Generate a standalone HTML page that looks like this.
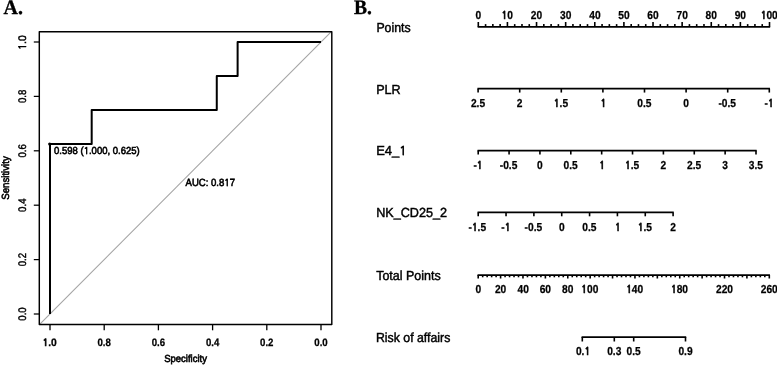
<!DOCTYPE html>
<html><head><meta charset="utf-8"><style>
html,body{margin:0;padding:0;background:#fff;}
body{width:777px;height:366px;overflow:hidden;}
svg{display:block;}
</style></head><body>
<svg width="777" height="366" viewBox="0 0 777 366" style="text-rendering:geometricPrecision">
<rect width="777" height="366" fill="#fff"/>
<clipPath id="cb"><rect x="39.3" y="31.8" width="292.5" height="292.6"/></clipPath>
<line clip-path="url(#cb)" x1="348.1" y1="14.8" x2="22.9" y2="341.2" stroke="#a4a4a4" stroke-width="1.05"/>
<polyline points="50,314 50,144 91.69,144 91.69,110 216.77,110 216.77,76 237.62,76 237.62,42 321,42" fill="none" stroke="#000" stroke-width="2" stroke-linejoin="round"/>
<circle cx="49.7" cy="144" r="1.6" fill="#000"/>
<rect x="39.3" y="31.8" width="292.5" height="292.6" fill="none" stroke="#000" stroke-width="1.45" stroke-linejoin="round"/>
<line x1="50" y1="324.4" x2="50" y2="330.3" stroke="#000" stroke-width="1.3"/>
<line x1="104.2" y1="324.4" x2="104.2" y2="330.3" stroke="#000" stroke-width="1.3"/>
<line x1="158.4" y1="324.4" x2="158.4" y2="330.3" stroke="#000" stroke-width="1.3"/>
<line x1="212.6" y1="324.4" x2="212.6" y2="330.3" stroke="#000" stroke-width="1.3"/>
<line x1="266.8" y1="324.4" x2="266.8" y2="330.3" stroke="#000" stroke-width="1.3"/>
<line x1="321" y1="324.4" x2="321" y2="330.3" stroke="#000" stroke-width="1.3"/>
<line x1="33.8" y1="314" x2="39.3" y2="314" stroke="#000" stroke-width="1.25"/>
<line x1="33.8" y1="259.6" x2="39.3" y2="259.6" stroke="#000" stroke-width="1.25"/>
<line x1="33.8" y1="205.2" x2="39.3" y2="205.2" stroke="#000" stroke-width="1.25"/>
<line x1="33.8" y1="150.8" x2="39.3" y2="150.8" stroke="#000" stroke-width="1.25"/>
<line x1="33.8" y1="96.4" x2="39.3" y2="96.4" stroke="#000" stroke-width="1.25"/>
<line x1="33.8" y1="42" x2="39.3" y2="42" stroke="#000" stroke-width="1.25"/>
<line x1="477.65" y1="26.8" x2="770.15" y2="26.8" stroke="#000" stroke-width="1.75"/>
<line x1="478.3" y1="26.8" x2="478.3" y2="22" stroke="#000" stroke-width="1.6"/>
<line x1="485.58" y1="26.8" x2="485.58" y2="24.1" stroke="#000" stroke-width="1.6"/>
<line x1="492.86" y1="26.8" x2="492.86" y2="24.1" stroke="#000" stroke-width="1.6"/>
<line x1="500.14" y1="26.8" x2="500.14" y2="24.1" stroke="#000" stroke-width="1.6"/>
<line x1="507.42" y1="26.8" x2="507.42" y2="22" stroke="#000" stroke-width="1.6"/>
<line x1="514.7" y1="26.8" x2="514.7" y2="24.1" stroke="#000" stroke-width="1.6"/>
<line x1="521.98" y1="26.8" x2="521.98" y2="24.1" stroke="#000" stroke-width="1.6"/>
<line x1="529.26" y1="26.8" x2="529.26" y2="24.1" stroke="#000" stroke-width="1.6"/>
<line x1="536.54" y1="26.8" x2="536.54" y2="22" stroke="#000" stroke-width="1.6"/>
<line x1="543.82" y1="26.8" x2="543.82" y2="24.1" stroke="#000" stroke-width="1.6"/>
<line x1="551.1" y1="26.8" x2="551.1" y2="24.1" stroke="#000" stroke-width="1.6"/>
<line x1="558.38" y1="26.8" x2="558.38" y2="24.1" stroke="#000" stroke-width="1.6"/>
<line x1="565.66" y1="26.8" x2="565.66" y2="22" stroke="#000" stroke-width="1.6"/>
<line x1="572.94" y1="26.8" x2="572.94" y2="24.1" stroke="#000" stroke-width="1.6"/>
<line x1="580.22" y1="26.8" x2="580.22" y2="24.1" stroke="#000" stroke-width="1.6"/>
<line x1="587.5" y1="26.8" x2="587.5" y2="24.1" stroke="#000" stroke-width="1.6"/>
<line x1="594.78" y1="26.8" x2="594.78" y2="22" stroke="#000" stroke-width="1.6"/>
<line x1="602.06" y1="26.8" x2="602.06" y2="24.1" stroke="#000" stroke-width="1.6"/>
<line x1="609.34" y1="26.8" x2="609.34" y2="24.1" stroke="#000" stroke-width="1.6"/>
<line x1="616.62" y1="26.8" x2="616.62" y2="24.1" stroke="#000" stroke-width="1.6"/>
<line x1="623.9" y1="26.8" x2="623.9" y2="22" stroke="#000" stroke-width="1.6"/>
<line x1="631.18" y1="26.8" x2="631.18" y2="24.1" stroke="#000" stroke-width="1.6"/>
<line x1="638.46" y1="26.8" x2="638.46" y2="24.1" stroke="#000" stroke-width="1.6"/>
<line x1="645.74" y1="26.8" x2="645.74" y2="24.1" stroke="#000" stroke-width="1.6"/>
<line x1="653.02" y1="26.8" x2="653.02" y2="22" stroke="#000" stroke-width="1.6"/>
<line x1="660.3" y1="26.8" x2="660.3" y2="24.1" stroke="#000" stroke-width="1.6"/>
<line x1="667.58" y1="26.8" x2="667.58" y2="24.1" stroke="#000" stroke-width="1.6"/>
<line x1="674.86" y1="26.8" x2="674.86" y2="24.1" stroke="#000" stroke-width="1.6"/>
<line x1="682.14" y1="26.8" x2="682.14" y2="22" stroke="#000" stroke-width="1.6"/>
<line x1="689.42" y1="26.8" x2="689.42" y2="24.1" stroke="#000" stroke-width="1.6"/>
<line x1="696.7" y1="26.8" x2="696.7" y2="24.1" stroke="#000" stroke-width="1.6"/>
<line x1="703.98" y1="26.8" x2="703.98" y2="24.1" stroke="#000" stroke-width="1.6"/>
<line x1="711.26" y1="26.8" x2="711.26" y2="22" stroke="#000" stroke-width="1.6"/>
<line x1="718.54" y1="26.8" x2="718.54" y2="24.1" stroke="#000" stroke-width="1.6"/>
<line x1="725.82" y1="26.8" x2="725.82" y2="24.1" stroke="#000" stroke-width="1.6"/>
<line x1="733.1" y1="26.8" x2="733.1" y2="24.1" stroke="#000" stroke-width="1.6"/>
<line x1="740.38" y1="26.8" x2="740.38" y2="22" stroke="#000" stroke-width="1.6"/>
<line x1="747.66" y1="26.8" x2="747.66" y2="24.1" stroke="#000" stroke-width="1.6"/>
<line x1="754.94" y1="26.8" x2="754.94" y2="24.1" stroke="#000" stroke-width="1.6"/>
<line x1="762.22" y1="26.8" x2="762.22" y2="24.1" stroke="#000" stroke-width="1.6"/>
<line x1="769.5" y1="26.8" x2="769.5" y2="22" stroke="#000" stroke-width="1.6"/>
<line x1="477.45" y1="88.65" x2="769.95" y2="88.65" stroke="#000" stroke-width="1.75"/>
<line x1="478.1" y1="88.65" x2="478.1" y2="92.55" stroke="#000" stroke-width="1.6"/>
<line x1="519.7" y1="88.65" x2="519.7" y2="92.55" stroke="#000" stroke-width="1.6"/>
<line x1="561.3" y1="88.65" x2="561.3" y2="92.55" stroke="#000" stroke-width="1.6"/>
<line x1="602.9" y1="88.65" x2="602.9" y2="92.55" stroke="#000" stroke-width="1.6"/>
<line x1="644.5" y1="88.65" x2="644.5" y2="92.55" stroke="#000" stroke-width="1.6"/>
<line x1="686.1" y1="88.65" x2="686.1" y2="92.55" stroke="#000" stroke-width="1.6"/>
<line x1="727.7" y1="88.65" x2="727.7" y2="92.55" stroke="#000" stroke-width="1.6"/>
<line x1="769.3" y1="88.65" x2="769.3" y2="92.55" stroke="#000" stroke-width="1.6"/>
<line x1="477.55" y1="150.6" x2="756.65" y2="150.6" stroke="#000" stroke-width="1.75"/>
<line x1="478.2" y1="150.6" x2="478.2" y2="154.5" stroke="#000" stroke-width="1.6"/>
<line x1="509.07" y1="150.6" x2="509.07" y2="154.5" stroke="#000" stroke-width="1.6"/>
<line x1="539.93" y1="150.6" x2="539.93" y2="154.5" stroke="#000" stroke-width="1.6"/>
<line x1="570.8" y1="150.6" x2="570.8" y2="154.5" stroke="#000" stroke-width="1.6"/>
<line x1="601.67" y1="150.6" x2="601.67" y2="154.5" stroke="#000" stroke-width="1.6"/>
<line x1="632.53" y1="150.6" x2="632.53" y2="154.5" stroke="#000" stroke-width="1.6"/>
<line x1="663.4" y1="150.6" x2="663.4" y2="154.5" stroke="#000" stroke-width="1.6"/>
<line x1="694.27" y1="150.6" x2="694.27" y2="154.5" stroke="#000" stroke-width="1.6"/>
<line x1="725.13" y1="150.6" x2="725.13" y2="154.5" stroke="#000" stroke-width="1.6"/>
<line x1="756" y1="150.6" x2="756" y2="154.5" stroke="#000" stroke-width="1.6"/>
<line x1="477.55" y1="212.4" x2="673.75" y2="212.4" stroke="#000" stroke-width="1.75"/>
<line x1="478.2" y1="212.4" x2="478.2" y2="216.3" stroke="#000" stroke-width="1.6"/>
<line x1="506.04" y1="212.4" x2="506.04" y2="216.3" stroke="#000" stroke-width="1.6"/>
<line x1="533.89" y1="212.4" x2="533.89" y2="216.3" stroke="#000" stroke-width="1.6"/>
<line x1="561.73" y1="212.4" x2="561.73" y2="216.3" stroke="#000" stroke-width="1.6"/>
<line x1="589.57" y1="212.4" x2="589.57" y2="216.3" stroke="#000" stroke-width="1.6"/>
<line x1="617.41" y1="212.4" x2="617.41" y2="216.3" stroke="#000" stroke-width="1.6"/>
<line x1="645.26" y1="212.4" x2="645.26" y2="216.3" stroke="#000" stroke-width="1.6"/>
<line x1="673.1" y1="212.4" x2="673.1" y2="216.3" stroke="#000" stroke-width="1.6"/>
<line x1="477.55" y1="275" x2="769.95" y2="275" stroke="#000" stroke-width="1.75"/>
<line x1="478.2" y1="275" x2="478.2" y2="278.5" stroke="#000" stroke-width="1.6"/>
<line x1="482.68" y1="275" x2="482.68" y2="277.3" stroke="#000" stroke-width="1.6"/>
<line x1="487.16" y1="275" x2="487.16" y2="277.3" stroke="#000" stroke-width="1.6"/>
<line x1="491.64" y1="275" x2="491.64" y2="277.3" stroke="#000" stroke-width="1.6"/>
<line x1="496.11" y1="275" x2="496.11" y2="277.3" stroke="#000" stroke-width="1.6"/>
<line x1="500.59" y1="275" x2="500.59" y2="278.5" stroke="#000" stroke-width="1.6"/>
<line x1="505.07" y1="275" x2="505.07" y2="277.3" stroke="#000" stroke-width="1.6"/>
<line x1="509.55" y1="275" x2="509.55" y2="277.3" stroke="#000" stroke-width="1.6"/>
<line x1="514.03" y1="275" x2="514.03" y2="277.3" stroke="#000" stroke-width="1.6"/>
<line x1="518.51" y1="275" x2="518.51" y2="277.3" stroke="#000" stroke-width="1.6"/>
<line x1="522.98" y1="275" x2="522.98" y2="278.5" stroke="#000" stroke-width="1.6"/>
<line x1="527.46" y1="275" x2="527.46" y2="277.3" stroke="#000" stroke-width="1.6"/>
<line x1="531.94" y1="275" x2="531.94" y2="277.3" stroke="#000" stroke-width="1.6"/>
<line x1="536.42" y1="275" x2="536.42" y2="277.3" stroke="#000" stroke-width="1.6"/>
<line x1="540.9" y1="275" x2="540.9" y2="277.3" stroke="#000" stroke-width="1.6"/>
<line x1="545.38" y1="275" x2="545.38" y2="278.5" stroke="#000" stroke-width="1.6"/>
<line x1="549.86" y1="275" x2="549.86" y2="277.3" stroke="#000" stroke-width="1.6"/>
<line x1="554.33" y1="275" x2="554.33" y2="277.3" stroke="#000" stroke-width="1.6"/>
<line x1="558.81" y1="275" x2="558.81" y2="277.3" stroke="#000" stroke-width="1.6"/>
<line x1="563.29" y1="275" x2="563.29" y2="277.3" stroke="#000" stroke-width="1.6"/>
<line x1="567.77" y1="275" x2="567.77" y2="278.5" stroke="#000" stroke-width="1.6"/>
<line x1="572.25" y1="275" x2="572.25" y2="277.3" stroke="#000" stroke-width="1.6"/>
<line x1="576.73" y1="275" x2="576.73" y2="277.3" stroke="#000" stroke-width="1.6"/>
<line x1="581.2" y1="275" x2="581.2" y2="277.3" stroke="#000" stroke-width="1.6"/>
<line x1="585.68" y1="275" x2="585.68" y2="277.3" stroke="#000" stroke-width="1.6"/>
<line x1="590.16" y1="275" x2="590.16" y2="278.5" stroke="#000" stroke-width="1.6"/>
<line x1="594.64" y1="275" x2="594.64" y2="277.3" stroke="#000" stroke-width="1.6"/>
<line x1="599.12" y1="275" x2="599.12" y2="277.3" stroke="#000" stroke-width="1.6"/>
<line x1="603.6" y1="275" x2="603.6" y2="277.3" stroke="#000" stroke-width="1.6"/>
<line x1="608.08" y1="275" x2="608.08" y2="277.3" stroke="#000" stroke-width="1.6"/>
<line x1="612.55" y1="275" x2="612.55" y2="278.5" stroke="#000" stroke-width="1.6"/>
<line x1="617.03" y1="275" x2="617.03" y2="277.3" stroke="#000" stroke-width="1.6"/>
<line x1="621.51" y1="275" x2="621.51" y2="277.3" stroke="#000" stroke-width="1.6"/>
<line x1="625.99" y1="275" x2="625.99" y2="277.3" stroke="#000" stroke-width="1.6"/>
<line x1="630.47" y1="275" x2="630.47" y2="277.3" stroke="#000" stroke-width="1.6"/>
<line x1="634.95" y1="275" x2="634.95" y2="278.5" stroke="#000" stroke-width="1.6"/>
<line x1="639.42" y1="275" x2="639.42" y2="277.3" stroke="#000" stroke-width="1.6"/>
<line x1="643.9" y1="275" x2="643.9" y2="277.3" stroke="#000" stroke-width="1.6"/>
<line x1="648.38" y1="275" x2="648.38" y2="277.3" stroke="#000" stroke-width="1.6"/>
<line x1="652.86" y1="275" x2="652.86" y2="277.3" stroke="#000" stroke-width="1.6"/>
<line x1="657.34" y1="275" x2="657.34" y2="278.5" stroke="#000" stroke-width="1.6"/>
<line x1="661.82" y1="275" x2="661.82" y2="277.3" stroke="#000" stroke-width="1.6"/>
<line x1="666.3" y1="275" x2="666.3" y2="277.3" stroke="#000" stroke-width="1.6"/>
<line x1="670.77" y1="275" x2="670.77" y2="277.3" stroke="#000" stroke-width="1.6"/>
<line x1="675.25" y1="275" x2="675.25" y2="277.3" stroke="#000" stroke-width="1.6"/>
<line x1="679.73" y1="275" x2="679.73" y2="278.5" stroke="#000" stroke-width="1.6"/>
<line x1="684.21" y1="275" x2="684.21" y2="277.3" stroke="#000" stroke-width="1.6"/>
<line x1="688.69" y1="275" x2="688.69" y2="277.3" stroke="#000" stroke-width="1.6"/>
<line x1="693.17" y1="275" x2="693.17" y2="277.3" stroke="#000" stroke-width="1.6"/>
<line x1="697.64" y1="275" x2="697.64" y2="277.3" stroke="#000" stroke-width="1.6"/>
<line x1="702.12" y1="275" x2="702.12" y2="278.5" stroke="#000" stroke-width="1.6"/>
<line x1="706.6" y1="275" x2="706.6" y2="277.3" stroke="#000" stroke-width="1.6"/>
<line x1="711.08" y1="275" x2="711.08" y2="277.3" stroke="#000" stroke-width="1.6"/>
<line x1="715.56" y1="275" x2="715.56" y2="277.3" stroke="#000" stroke-width="1.6"/>
<line x1="720.04" y1="275" x2="720.04" y2="277.3" stroke="#000" stroke-width="1.6"/>
<line x1="724.52" y1="275" x2="724.52" y2="278.5" stroke="#000" stroke-width="1.6"/>
<line x1="728.99" y1="275" x2="728.99" y2="277.3" stroke="#000" stroke-width="1.6"/>
<line x1="733.47" y1="275" x2="733.47" y2="277.3" stroke="#000" stroke-width="1.6"/>
<line x1="737.95" y1="275" x2="737.95" y2="277.3" stroke="#000" stroke-width="1.6"/>
<line x1="742.43" y1="275" x2="742.43" y2="277.3" stroke="#000" stroke-width="1.6"/>
<line x1="746.91" y1="275" x2="746.91" y2="278.5" stroke="#000" stroke-width="1.6"/>
<line x1="751.39" y1="275" x2="751.39" y2="277.3" stroke="#000" stroke-width="1.6"/>
<line x1="755.86" y1="275" x2="755.86" y2="277.3" stroke="#000" stroke-width="1.6"/>
<line x1="760.34" y1="275" x2="760.34" y2="277.3" stroke="#000" stroke-width="1.6"/>
<line x1="764.82" y1="275" x2="764.82" y2="277.3" stroke="#000" stroke-width="1.6"/>
<line x1="769.3" y1="275" x2="769.3" y2="278.5" stroke="#000" stroke-width="1.6"/>
<line x1="581.6" y1="337" x2="686.2" y2="337" stroke="#000" stroke-width="1.75"/>
<line x1="582.3" y1="337" x2="582.3" y2="341.5" stroke="#000" stroke-width="1.6"/>
<line x1="614.3" y1="337" x2="614.3" y2="341.5" stroke="#000" stroke-width="1.6"/>
<line x1="633.7" y1="337" x2="633.7" y2="341.5" stroke="#000" stroke-width="1.6"/>
<line x1="685.5" y1="337" x2="685.5" y2="341.5" stroke="#000" stroke-width="1.6"/>
<text x="3.6" y="13.6" font-family="Liberation Serif, Times New Roman, serif" font-size="20.5" font-weight="bold" stroke="#000" stroke-width="0.35" textLength="19.32" lengthAdjust="spacingAndGlyphs">A.</text>
<text x="185.52" y="185.7" font-family="Liberation Sans, Arial, sans-serif" font-size="10.4" stroke="#000" stroke-width="0.6" textLength="49.45" lengthAdjust="spacingAndGlyphs">AUC: 0.8<tspan font-family="NanumGothic, Liberation Sans, sans-serif" stroke="#000" stroke-width="0.7" font-size="92.6%">1</tspan>7</text>
<text x="54" y="154" font-family="Liberation Sans, Arial, sans-serif" font-size="10.2" stroke="#000" stroke-width="0.6" textLength="85.77" lengthAdjust="spacingAndGlyphs">0.598 (<tspan font-family="NanumGothic, Liberation Sans, sans-serif" stroke="#000" stroke-width="0.7" font-size="92.6%">1</tspan>.000, 0.625)</text>
<text x="164.2" y="362.2" font-family="Liberation Sans, Arial, sans-serif" font-size="10.2" stroke="#000" stroke-width="0.6" textLength="42.79" lengthAdjust="spacingAndGlyphs">Specificity</text>
<text transform="translate(8.8,199.83) rotate(-90)" x="0" y="0" font-family="Liberation Sans, Arial, sans-serif" font-size="10.4" stroke="#000" stroke-width="0.6" textLength="43.62" lengthAdjust="spacingAndGlyphs">Sensitivity</text>
<text x="42.4" y="345.6" font-family="Liberation Sans, Arial, sans-serif" font-size="10.8" font-weight="bold" stroke="#000" stroke-width="0.25" textLength="14.41" lengthAdjust="spacingAndGlyphs"><tspan font-family="NanumGothic, Liberation Sans, sans-serif" stroke="#000" stroke-width="0.6" font-size="92.6%">1</tspan>.0</text>
<text x="97.49" y="345.6" font-family="Liberation Sans, Arial, sans-serif" font-size="10.8" font-weight="bold" stroke="#000" stroke-width="0.25" textLength="13.41" lengthAdjust="spacingAndGlyphs">0.8</text>
<text x="151.69" y="345.6" font-family="Liberation Sans, Arial, sans-serif" font-size="10.8" font-weight="bold" stroke="#000" stroke-width="0.25" textLength="13.42" lengthAdjust="spacingAndGlyphs">0.6</text>
<text x="205.89" y="345.6" font-family="Liberation Sans, Arial, sans-serif" font-size="10.8" font-weight="bold" stroke="#000" stroke-width="0.25" textLength="13.37" lengthAdjust="spacingAndGlyphs">0.4</text>
<text x="260.09" y="345.6" font-family="Liberation Sans, Arial, sans-serif" font-size="10.8" font-weight="bold" stroke="#000" stroke-width="0.25" textLength="13.41" lengthAdjust="spacingAndGlyphs">0.2</text>
<text x="314.29" y="345.6" font-family="Liberation Sans, Arial, sans-serif" font-size="10.8" font-weight="bold" stroke="#000" stroke-width="0.25" textLength="13.44" lengthAdjust="spacingAndGlyphs">0.0</text>
<text transform="translate(25.9,320.68) rotate(-90)" x="0" y="0" font-family="Liberation Sans, Arial, sans-serif" font-size="11" stroke="#000" stroke-width="0.45" textLength="13.28" lengthAdjust="spacingAndGlyphs">0.0</text>
<text transform="translate(25.9,266.28) rotate(-90)" x="0" y="0" font-family="Liberation Sans, Arial, sans-serif" font-size="11" stroke="#000" stroke-width="0.45" textLength="13.36" lengthAdjust="spacingAndGlyphs">0.2</text>
<text transform="translate(25.9,211.88) rotate(-90)" x="0" y="0" font-family="Liberation Sans, Arial, sans-serif" font-size="11" stroke="#000" stroke-width="0.45" textLength="13.39" lengthAdjust="spacingAndGlyphs">0.4</text>
<text transform="translate(25.9,157.48) rotate(-90)" x="0" y="0" font-family="Liberation Sans, Arial, sans-serif" font-size="11" stroke="#000" stroke-width="0.45" textLength="13.33" lengthAdjust="spacingAndGlyphs">0.6</text>
<text transform="translate(25.9,103.08) rotate(-90)" x="0" y="0" font-family="Liberation Sans, Arial, sans-serif" font-size="11" stroke="#000" stroke-width="0.45" textLength="13.35" lengthAdjust="spacingAndGlyphs">0.8</text>
<text transform="translate(25.9,49.73) rotate(-90)" x="0" y="0" font-family="Liberation Sans, Arial, sans-serif" font-size="11" stroke="#000" stroke-width="0.45" textLength="14.4" lengthAdjust="spacingAndGlyphs"><tspan font-family="NanumGothic, Liberation Sans, sans-serif" stroke="#000" stroke-width="0.7" font-size="92.6%">1</tspan>.0</text>
<text x="354.1" y="13.6" font-family="Liberation Serif, Times New Roman, serif" font-size="20.5" font-weight="bold" stroke="#000" stroke-width="0.35" textLength="17.89" lengthAdjust="spacingAndGlyphs">B.</text>
<text x="376.4" y="32.3" font-family="Liberation Sans, Arial, sans-serif" font-size="13.2" stroke="#000" stroke-width="0.45" textLength="34.27" lengthAdjust="spacingAndGlyphs">Points</text>
<text x="376.18" y="94.4" font-family="Liberation Sans, Arial, sans-serif" font-size="13.2" stroke="#000" stroke-width="0.45" textLength="24.52" lengthAdjust="spacingAndGlyphs">PLR</text>
<text x="376.16" y="154.6" font-family="Liberation Sans, Arial, sans-serif" font-size="13.2" stroke="#000" stroke-width="0.45" textLength="30.3" lengthAdjust="spacingAndGlyphs">E4_<tspan font-family="NanumGothic, Liberation Sans, sans-serif" stroke="#000" stroke-width="0.7" font-size="92.6%">1</tspan></text>
<text x="376.18" y="216.5" font-family="Liberation Sans, Arial, sans-serif" font-size="13.2" stroke="#000" stroke-width="0.45" textLength="70.92" lengthAdjust="spacingAndGlyphs">NK_CD25_2</text>
<text x="376.2" y="280" font-family="Liberation Sans, Arial, sans-serif" font-size="13.2" stroke="#000" stroke-width="0.45" textLength="64.49" lengthAdjust="spacingAndGlyphs">Total Points</text>
<text x="375.9" y="341.8" font-family="Liberation Sans, Arial, sans-serif" font-size="13.2" stroke="#000" stroke-width="0.45" textLength="74.45" lengthAdjust="spacingAndGlyphs">Risk of affairs</text>
<text x="475.48" y="18.8" font-family="Liberation Sans, Arial, sans-serif" font-size="11.6" font-weight="bold" stroke="#000" stroke-width="0.25" textLength="5.68" lengthAdjust="spacingAndGlyphs">0</text>
<text x="501.45" y="18.8" font-family="Liberation Sans, Arial, sans-serif" font-size="11.6" font-weight="bold" stroke="#000" stroke-width="0.25" textLength="11.41" lengthAdjust="spacingAndGlyphs"><tspan font-family="NanumGothic, Liberation Sans, sans-serif" stroke="#000" stroke-width="0.6" font-size="92.6%">1</tspan>0</text>
<text x="530.87" y="18.8" font-family="Liberation Sans, Arial, sans-serif" font-size="11.6" font-weight="bold" stroke="#000" stroke-width="0.25" textLength="11.36" lengthAdjust="spacingAndGlyphs">20</text>
<text x="559.96" y="18.8" font-family="Liberation Sans, Arial, sans-serif" font-size="11.6" font-weight="bold" stroke="#000" stroke-width="0.25" textLength="11.36" lengthAdjust="spacingAndGlyphs">30</text>
<text x="589.25" y="18.8" font-family="Liberation Sans, Arial, sans-serif" font-size="11.6" font-weight="bold" stroke="#000" stroke-width="0.25" textLength="11.36" lengthAdjust="spacingAndGlyphs">40</text>
<text x="618.21" y="18.8" font-family="Liberation Sans, Arial, sans-serif" font-size="11.6" font-weight="bold" stroke="#000" stroke-width="0.25" textLength="11.36" lengthAdjust="spacingAndGlyphs">50</text>
<text x="647.34" y="18.8" font-family="Liberation Sans, Arial, sans-serif" font-size="11.6" font-weight="bold" stroke="#000" stroke-width="0.25" textLength="11.36" lengthAdjust="spacingAndGlyphs">60</text>
<text x="676.46" y="18.8" font-family="Liberation Sans, Arial, sans-serif" font-size="11.6" font-weight="bold" stroke="#000" stroke-width="0.25" textLength="11.36" lengthAdjust="spacingAndGlyphs">70</text>
<text x="705.58" y="18.8" font-family="Liberation Sans, Arial, sans-serif" font-size="11.6" font-weight="bold" stroke="#000" stroke-width="0.25" textLength="11.36" lengthAdjust="spacingAndGlyphs">80</text>
<text x="734.7" y="18.8" font-family="Liberation Sans, Arial, sans-serif" font-size="11.6" font-weight="bold" stroke="#000" stroke-width="0.25" textLength="11.36" lengthAdjust="spacingAndGlyphs">90</text>
<text x="760.68" y="18.8" font-family="Liberation Sans, Arial, sans-serif" font-size="11.6" font-weight="bold" stroke="#000" stroke-width="0.25" textLength="17.09" lengthAdjust="spacingAndGlyphs"><tspan font-family="NanumGothic, Liberation Sans, sans-serif" stroke="#000" stroke-width="0.6" font-size="92.6%">1</tspan>00</text>
<text x="470.92" y="107.4" font-family="Liberation Sans, Arial, sans-serif" font-size="11.6" font-weight="bold" stroke="#000" stroke-width="0.25" textLength="14.19" lengthAdjust="spacingAndGlyphs">2.5</text>
<text x="516.87" y="107.4" font-family="Liberation Sans, Arial, sans-serif" font-size="11.6" font-weight="bold" stroke="#000" stroke-width="0.25" textLength="5.68" lengthAdjust="spacingAndGlyphs">2</text>
<text x="553.82" y="107.4" font-family="Liberation Sans, Arial, sans-serif" font-size="11.6" font-weight="bold" stroke="#000" stroke-width="0.25" textLength="14.24" lengthAdjust="spacingAndGlyphs"><tspan font-family="NanumGothic, Liberation Sans, sans-serif" stroke="#000" stroke-width="0.6" font-size="92.6%">1</tspan>.5</text>
<text x="600.53" y="107.4" font-family="Liberation Sans, Arial, sans-serif" font-size="11.6" font-weight="bold" stroke="#000" stroke-width="0.25" textLength="5.73" lengthAdjust="spacingAndGlyphs"><tspan font-family="NanumGothic, Liberation Sans, sans-serif" stroke="#000" stroke-width="0.6" font-size="92.6%">1</tspan></text>
<text x="637.3" y="107.4" font-family="Liberation Sans, Arial, sans-serif" font-size="11.6" font-weight="bold" stroke="#000" stroke-width="0.25" textLength="14.19" lengthAdjust="spacingAndGlyphs">0.5</text>
<text x="683.28" y="107.4" font-family="Liberation Sans, Arial, sans-serif" font-size="11.6" font-weight="bold" stroke="#000" stroke-width="0.25" textLength="5.68" lengthAdjust="spacingAndGlyphs">0</text>
<text x="718.41" y="107.4" font-family="Liberation Sans, Arial, sans-serif" font-size="11.6" font-weight="bold" stroke="#000" stroke-width="0.25" textLength="17.59" lengthAdjust="spacingAndGlyphs">-0.5</text>
<text x="764.53" y="107.4" font-family="Liberation Sans, Arial, sans-serif" font-size="11.6" font-weight="bold" stroke="#000" stroke-width="0.25" textLength="9.14" lengthAdjust="spacingAndGlyphs">-<tspan font-family="NanumGothic, Liberation Sans, sans-serif" stroke="#000" stroke-width="0.6" font-size="92.6%">1</tspan></text>
<text x="473.43" y="169.3" font-family="Liberation Sans, Arial, sans-serif" font-size="11.6" font-weight="bold" stroke="#000" stroke-width="0.25" textLength="9.14" lengthAdjust="spacingAndGlyphs">-<tspan font-family="NanumGothic, Liberation Sans, sans-serif" stroke="#000" stroke-width="0.6" font-size="92.6%">1</tspan></text>
<text x="499.77" y="169.3" font-family="Liberation Sans, Arial, sans-serif" font-size="11.6" font-weight="bold" stroke="#000" stroke-width="0.25" textLength="17.59" lengthAdjust="spacingAndGlyphs">-0.5</text>
<text x="537.12" y="169.3" font-family="Liberation Sans, Arial, sans-serif" font-size="11.6" font-weight="bold" stroke="#000" stroke-width="0.25" textLength="5.68" lengthAdjust="spacingAndGlyphs">0</text>
<text x="563.6" y="169.3" font-family="Liberation Sans, Arial, sans-serif" font-size="11.6" font-weight="bold" stroke="#000" stroke-width="0.25" textLength="14.19" lengthAdjust="spacingAndGlyphs">0.5</text>
<text x="599.29" y="169.3" font-family="Liberation Sans, Arial, sans-serif" font-size="11.6" font-weight="bold" stroke="#000" stroke-width="0.25" textLength="5.73" lengthAdjust="spacingAndGlyphs"><tspan font-family="NanumGothic, Liberation Sans, sans-serif" stroke="#000" stroke-width="0.6" font-size="92.6%">1</tspan></text>
<text x="625.05" y="169.3" font-family="Liberation Sans, Arial, sans-serif" font-size="11.6" font-weight="bold" stroke="#000" stroke-width="0.25" textLength="14.24" lengthAdjust="spacingAndGlyphs"><tspan font-family="NanumGothic, Liberation Sans, sans-serif" stroke="#000" stroke-width="0.6" font-size="92.6%">1</tspan>.5</text>
<text x="660.57" y="169.3" font-family="Liberation Sans, Arial, sans-serif" font-size="11.6" font-weight="bold" stroke="#000" stroke-width="0.25" textLength="5.68" lengthAdjust="spacingAndGlyphs">2</text>
<text x="687.09" y="169.3" font-family="Liberation Sans, Arial, sans-serif" font-size="11.6" font-weight="bold" stroke="#000" stroke-width="0.25" textLength="14.19" lengthAdjust="spacingAndGlyphs">2.5</text>
<text x="722.29" y="169.3" font-family="Liberation Sans, Arial, sans-serif" font-size="11.6" font-weight="bold" stroke="#000" stroke-width="0.25" textLength="5.68" lengthAdjust="spacingAndGlyphs">3</text>
<text x="748.79" y="169.3" font-family="Liberation Sans, Arial, sans-serif" font-size="11.6" font-weight="bold" stroke="#000" stroke-width="0.25" textLength="14.19" lengthAdjust="spacingAndGlyphs">3.5</text>
<text x="468.47" y="231.2" font-family="Liberation Sans, Arial, sans-serif" font-size="11.6" font-weight="bold" stroke="#000" stroke-width="0.25" textLength="17.66" lengthAdjust="spacingAndGlyphs">-<tspan font-family="NanumGothic, Liberation Sans, sans-serif" stroke="#000" stroke-width="0.6" font-size="92.6%">1</tspan>.5</text>
<text x="501.27" y="231.2" font-family="Liberation Sans, Arial, sans-serif" font-size="11.6" font-weight="bold" stroke="#000" stroke-width="0.25" textLength="9.14" lengthAdjust="spacingAndGlyphs">-<tspan font-family="NanumGothic, Liberation Sans, sans-serif" stroke="#000" stroke-width="0.6" font-size="92.6%">1</tspan></text>
<text x="524.59" y="231.2" font-family="Liberation Sans, Arial, sans-serif" font-size="11.6" font-weight="bold" stroke="#000" stroke-width="0.25" textLength="17.59" lengthAdjust="spacingAndGlyphs">-0.5</text>
<text x="558.91" y="231.2" font-family="Liberation Sans, Arial, sans-serif" font-size="11.6" font-weight="bold" stroke="#000" stroke-width="0.25" textLength="5.68" lengthAdjust="spacingAndGlyphs">0</text>
<text x="582.37" y="231.2" font-family="Liberation Sans, Arial, sans-serif" font-size="11.6" font-weight="bold" stroke="#000" stroke-width="0.25" textLength="14.19" lengthAdjust="spacingAndGlyphs">0.5</text>
<text x="615.04" y="231.2" font-family="Liberation Sans, Arial, sans-serif" font-size="11.6" font-weight="bold" stroke="#000" stroke-width="0.25" textLength="5.73" lengthAdjust="spacingAndGlyphs"><tspan font-family="NanumGothic, Liberation Sans, sans-serif" stroke="#000" stroke-width="0.6" font-size="92.6%">1</tspan></text>
<text x="637.78" y="231.2" font-family="Liberation Sans, Arial, sans-serif" font-size="11.6" font-weight="bold" stroke="#000" stroke-width="0.25" textLength="14.24" lengthAdjust="spacingAndGlyphs"><tspan font-family="NanumGothic, Liberation Sans, sans-serif" stroke="#000" stroke-width="0.6" font-size="92.6%">1</tspan>.5</text>
<text x="670.27" y="231.2" font-family="Liberation Sans, Arial, sans-serif" font-size="11.6" font-weight="bold" stroke="#000" stroke-width="0.25" textLength="5.68" lengthAdjust="spacingAndGlyphs">2</text>
<text x="475.38" y="292.6" font-family="Liberation Sans, Arial, sans-serif" font-size="11.6" font-weight="bold" stroke="#000" stroke-width="0.25" textLength="5.68" lengthAdjust="spacingAndGlyphs">0</text>
<text x="494.93" y="292.6" font-family="Liberation Sans, Arial, sans-serif" font-size="11.6" font-weight="bold" stroke="#000" stroke-width="0.25" textLength="11.36" lengthAdjust="spacingAndGlyphs">20</text>
<text x="517.46" y="292.6" font-family="Liberation Sans, Arial, sans-serif" font-size="11.6" font-weight="bold" stroke="#000" stroke-width="0.25" textLength="11.36" lengthAdjust="spacingAndGlyphs">40</text>
<text x="539.69" y="292.6" font-family="Liberation Sans, Arial, sans-serif" font-size="11.6" font-weight="bold" stroke="#000" stroke-width="0.25" textLength="11.36" lengthAdjust="spacingAndGlyphs">60</text>
<text x="562.09" y="292.6" font-family="Liberation Sans, Arial, sans-serif" font-size="11.6" font-weight="bold" stroke="#000" stroke-width="0.25" textLength="11.36" lengthAdjust="spacingAndGlyphs">80</text>
<text x="581.34" y="292.6" font-family="Liberation Sans, Arial, sans-serif" font-size="11.6" font-weight="bold" stroke="#000" stroke-width="0.25" textLength="17.09" lengthAdjust="spacingAndGlyphs"><tspan font-family="NanumGothic, Liberation Sans, sans-serif" stroke="#000" stroke-width="0.6" font-size="92.6%">1</tspan>00</text>
<text x="626.13" y="292.6" font-family="Liberation Sans, Arial, sans-serif" font-size="11.6" font-weight="bold" stroke="#000" stroke-width="0.25" textLength="17.09" lengthAdjust="spacingAndGlyphs"><tspan font-family="NanumGothic, Liberation Sans, sans-serif" stroke="#000" stroke-width="0.6" font-size="92.6%">1</tspan>40</text>
<text x="670.91" y="292.6" font-family="Liberation Sans, Arial, sans-serif" font-size="11.6" font-weight="bold" stroke="#000" stroke-width="0.25" textLength="17.09" lengthAdjust="spacingAndGlyphs"><tspan font-family="NanumGothic, Liberation Sans, sans-serif" stroke="#000" stroke-width="0.6" font-size="92.6%">1</tspan>80</text>
<text x="716" y="292.6" font-family="Liberation Sans, Arial, sans-serif" font-size="11.6" font-weight="bold" stroke="#000" stroke-width="0.25" textLength="17.02" lengthAdjust="spacingAndGlyphs">220</text>
<text x="760.78" y="292.6" font-family="Liberation Sans, Arial, sans-serif" font-size="11.6" font-weight="bold" stroke="#000" stroke-width="0.25" textLength="17.02" lengthAdjust="spacingAndGlyphs">260</text>
<text x="575.93" y="354.6" font-family="Liberation Sans, Arial, sans-serif" font-size="11.6" font-weight="bold" stroke="#000" stroke-width="0.25" textLength="14.24" lengthAdjust="spacingAndGlyphs">0.<tspan font-family="NanumGothic, Liberation Sans, sans-serif" stroke="#000" stroke-width="0.6" font-size="92.6%">1</tspan></text>
<text x="607.2" y="354.6" font-family="Liberation Sans, Arial, sans-serif" font-size="11.6" font-weight="bold" stroke="#000" stroke-width="0.25" textLength="14.19" lengthAdjust="spacingAndGlyphs">0.3</text>
<text x="626.5" y="354.6" font-family="Liberation Sans, Arial, sans-serif" font-size="11.6" font-weight="bold" stroke="#000" stroke-width="0.25" textLength="14.19" lengthAdjust="spacingAndGlyphs">0.5</text>
<text x="678.4" y="354.6" font-family="Liberation Sans, Arial, sans-serif" font-size="11.6" font-weight="bold" stroke="#000" stroke-width="0.25" textLength="14.19" lengthAdjust="spacingAndGlyphs">0.9</text>
</svg>
</body></html>
